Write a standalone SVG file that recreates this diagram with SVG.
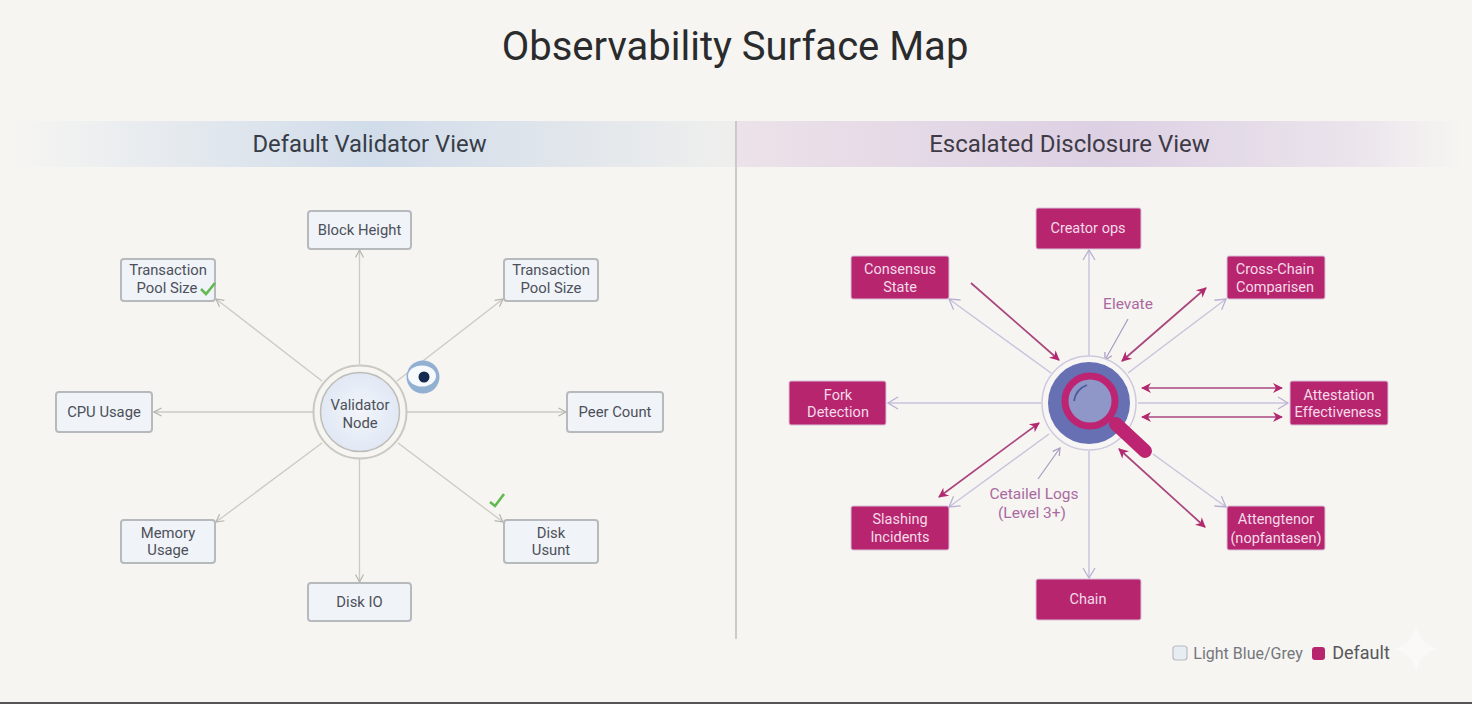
<svg xmlns="http://www.w3.org/2000/svg" width="1472" height="704" viewBox="0 0 1472 704">
<defs>
<linearGradient id="bandL" x1="0" x2="1" y1="0" y2="0"><stop offset="0" stop-color="#f6f5f2"/><stop offset="0.5" stop-color="#d1dcea"/><stop offset="1" stop-color="#efefed"/></linearGradient>
<linearGradient id="bandR" x1="0" x2="1" y1="0" y2="0"><stop offset="0" stop-color="#ece2e9"/><stop offset="0.5" stop-color="#dcd0e3"/><stop offset="0.85" stop-color="#ebe4ec"/><stop offset="1" stop-color="#f6f5f2"/></linearGradient>
<radialGradient id="core" cx="0.5" cy="0.5" r="0.55"><stop offset="0" stop-color="#f2f5fa"/><stop offset="1" stop-color="#dfe7f4"/></radialGradient>
<marker id="ag" markerWidth="10" markerHeight="10" refX="8.500" refY="5" orient="auto" markerUnits="userSpaceOnUse"><path d="M1 1L8.500 5L1 9" fill="none" stroke="#b5b4ae" stroke-width="1.200"/></marker>
<marker id="al" markerWidth="14" markerHeight="14" refX="11" refY="7" orient="auto" markerUnits="userSpaceOnUse"><path d="M1 1L11 7L1 13" fill="none" stroke="#b9b0d4" stroke-width="1.300"/></marker>
<marker id="am" markerWidth="11" markerHeight="12" refX="9" refY="6" orient="auto-start-reverse" markerUnits="userSpaceOnUse"><path d="M0 1L10 6L0 11L3 6Z" fill="#b3296f"/></marker>
<marker id="as" markerWidth="10" markerHeight="10" refX="8" refY="5" orient="auto" markerUnits="userSpaceOnUse"><path d="M1 1L8 5L1 9" fill="none" stroke="#a69cc0" stroke-width="1.200"/></marker>
</defs>
<style>
text{font-family:"Roboto","Liberation Sans",sans-serif;text-anchor:middle}
.g{fill:#f0f3f8;stroke:#b6babd;stroke-width:2}
.gt{fill:#4c5058;font-size:14.800px}
.m{fill:#b8256f;stroke:#d8c2d8;stroke-width:1}
.mt{fill:#f3dbe8;font-size:14.500px}
.cg{stroke:#cbcac4;stroke-width:1.300;fill:none;marker-end:url(#ag)}
.cl{stroke:#c8c2dc;stroke-width:1.400;fill:none;marker-end:url(#al)}
.cm{stroke:#a9467e;stroke-width:1.700;fill:none;marker-end:url(#am)}
.cb{stroke:#a9467e;stroke-width:1.700;fill:none;marker-start:url(#am);marker-end:url(#am)}
.lab{fill:#ab6a9f;font-size:15.500px}
</style>
<rect width="1472" height="704" fill="#f6f5f2"/>
<rect y="702" width="1472" height="2" fill="#555"/>
<text x="735" y="60" font-size="40" fill="#2a2b2d" id="title">Observability Surface Map</text>
<rect x="10" y="121" width="726" height="46" fill="url(#bandL)"/>
<rect x="737" y="121" width="725" height="46" fill="url(#bandR)"/>
<text x="369.500" y="152" font-size="23.800" fill="#373d47">Default Validator View</text>
<text x="1069.500" y="152" font-size="24" fill="#3e3a46">Escalated Disclosure View</text>
<line x1="736" y1="121" x2="736" y2="639" stroke="#bcbcb8" stroke-width="1.500"/>

<g id="connectors">
<path class="cg" d="M359.500 364V250"/>
<path class="cg" d="M322 381L216 299"/>
<path class="cg" d="M397 381L503 299"/>
<path class="cg" d="M313 412H154"/>
<path class="cg" d="M407 412H566"/>
<path class="cg" d="M322 443L216 522"/>
<path class="cg" d="M398 443L503 522"/>
<path class="cg" d="M359.500 459V582"/>

<path class="cl" d="M1089 356V250"/>
<path class="cl" d="M1051 373L949 299"/>
<path class="cl" d="M1128 373L1226 299"/>
<path class="cl" d="M1041 403H888"/>
<path class="cl" d="M1138 403H1288"/>
<path class="cl" d="M1049 434L949 507"/>
<path class="cl" d="M1153 454L1226 507"/>
<path class="cl" d="M1089 451V578"/>

<path class="cm" d="M971 283L1059 360"/>
<path class="cb" d="M1122 361L1206 288"/>
<path class="cb" d="M1142 388H1282"/>
<path class="cb" d="M1142 417H1282"/>
<path class="cb" d="M939 497L1039 423"/>
<path class="cb" d="M1119 449L1205 527"/>
<path d="M1128 319L1105 360" stroke="#a69cc0" stroke-width="1.200" fill="none" marker-end="url(#as)"/>
<path d="M1038 479L1060 448" stroke="#a69cc0" stroke-width="1.200" fill="none" marker-end="url(#as)"/>
</g>

<g id="node-block-height"><rect class="g" x="308" y="211" width="103" height="38" rx="3"/><text class="gt" x="359.500" y="235">Block Height</text></g>
<g id="node-tx-pool-left"><rect class="g" x="121" y="259" width="94" height="42" rx="3"/><text class="gt" x="168" y="275">Transaction</text><text class="gt" x="167" y="293">Pool Size</text><path d="M201 289L206 294L215 283" fill="none" stroke="#62b94f" stroke-width="2.600"/></g>
<g id="node-tx-pool-right"><rect class="g" x="504" y="259" width="94" height="42" rx="3"/><text class="gt" x="551" y="275">Transaction</text><text class="gt" x="551" y="293">Pool Size</text></g>
<g id="node-cpu"><rect class="g" x="56" y="392" width="96" height="40" rx="3"/><text class="gt" x="104" y="417">CPU Usage</text></g>
<g id="node-peer"><rect class="g" x="567" y="392" width="96" height="40" rx="3"/><text class="gt" x="615" y="417">Peer Count</text></g>
<g id="node-memory"><rect class="g" x="121" y="520" width="94" height="43" rx="3"/><text class="gt" x="168" y="538">Memory</text><text class="gt" x="168" y="555">Usage</text></g>
<g id="node-disk-usunt"><rect class="g" x="504" y="520" width="94" height="43" rx="3"/><text class="gt" x="551" y="538">Disk</text><text class="gt" x="551" y="555">Usunt</text></g>
<path d="M490 502L495 506L504 494" fill="none" stroke="#62b94f" stroke-width="2.600"/>
<g id="node-disk-io"><rect class="g" x="308" y="583" width="103" height="38" rx="3"/><text class="gt" x="359.500" y="607">Disk IO</text></g>

<g id="node-validator">
<circle cx="360" cy="412" r="46.500" fill="#f6f5f2" stroke="#c9c8c1" stroke-width="2"/>
<circle cx="360" cy="412" r="39.500" fill="url(#core)" stroke="#bdbdb8" stroke-width="1.500"/>
<text class="gt" x="360" y="410">Validator</text><text class="gt" x="360" y="428">Node</text>
</g>
<g id="eye">
<circle cx="423" cy="377" r="16.500" fill="#92b0d2"/>
<ellipse cx="422" cy="376" rx="14" ry="10.500" fill="#f7fafc"/>
<circle cx="424" cy="377" r="5.500" fill="#142a4e"/>
</g>

<g id="node-creator"><rect class="m" x="1036" y="208" width="105" height="41" rx="2"/><text class="mt" x="1088" y="233">Creator ops</text></g>
<g id="node-consensus"><rect class="m" x="851" y="256" width="98" height="43" rx="2"/><text class="mt" x="900" y="274">Consensus</text><text class="mt" x="900" y="292">State</text></g>
<g id="node-crosschain"><rect class="m" x="1227" y="256" width="98" height="43" rx="2"/><text class="mt" x="1275" y="274">Cross-Chain</text><text class="mt" x="1275" y="292">Comparisen</text></g>
<g id="node-fork"><rect class="m" x="789" y="381" width="97" height="44" rx="2"/><text class="mt" x="838" y="400">Fork</text><text class="mt" x="838" y="417">Detection</text></g>
<g id="node-attestation"><rect class="m" x="1290" y="381" width="98" height="44" rx="2"/><text class="mt" x="1339" y="400">Attestation</text><text class="mt" x="1338" y="417">Effectiveness</text></g>
<g id="node-slashing"><rect class="m" x="851" y="506" width="98" height="44" rx="2"/><text class="mt" x="900" y="524">Slashing</text><text class="mt" x="900" y="542">Incidents</text></g>
<g id="node-attengtenor"><rect class="m" x="1227" y="506" width="98" height="44" rx="2"/><text class="mt" x="1276" y="524">Attengtenor</text><text class="mt" x="1276" y="543" font-size="13.500">(nopfantasen)</text></g>
<g id="node-chain"><rect class="m" x="1036" y="579" width="105" height="41" rx="2"/><text class="mt" x="1088" y="604">Chain</text></g>

<g id="node-magnifier">
<circle cx="1089" cy="403" r="47" fill="#f7f6f4" stroke="#cfc9dd" stroke-width="1.500"/>
<circle cx="1089" cy="403" r="41" fill="#6670b3"/>
<path d="M1116 424L1145 451" stroke="#bd2573" stroke-width="14" stroke-linecap="round"/>
<circle cx="1090" cy="401" r="25" fill="#8f96c8" stroke="#bd2573" stroke-width="7"/>
<path d="M1074 401Q1076 389 1087 385" fill="none" stroke="#4c5a9c" stroke-width="1.800"/>
</g>
<text class="lab" x="1128" y="309">Elevate</text>
<text class="lab" x="1034" y="499">Cetailel Logs</text>
<text class="lab" x="1032" y="518">(Level 3+)</text>

<g id="legend">
<rect x="1173" y="646" width="14" height="14" rx="3" fill="#e8edf4" stroke="#b8bcc0" stroke-width="1.200"/>
<text x="1248" y="659" font-size="16" fill="#75777c">Light Blue/Grey</text>
<rect x="1312" y="647" width="13" height="13" rx="3" fill="#b8256f"/>
<text x="1361" y="659" font-size="18" fill="#56575b">Default</text>
</g>
<path d="M1416 626Q1420 645 1438 649Q1420 653 1416 672Q1412 653 1394 649Q1412 645 1416 626Z" fill="#faf9f7"/>
</svg>
